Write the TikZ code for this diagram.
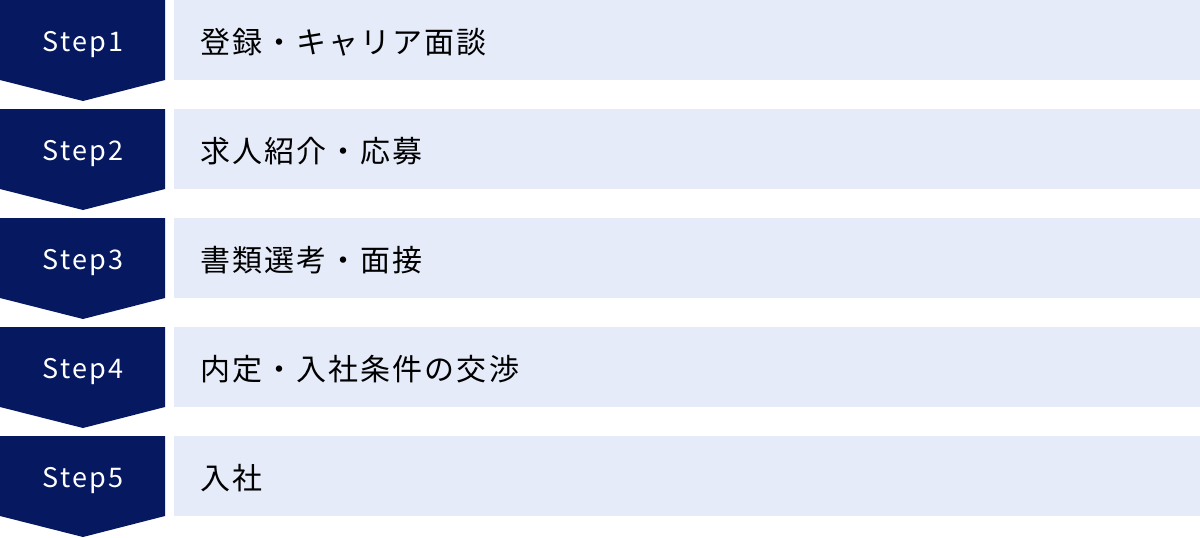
\documentclass[tikz,border=0pt]{standalone}
\usepackage{fontspec}
\setmainfont{Noto Sans CJK JP}
\newfontfamily\labfont[LetterSpace=9]{Noto Sans CJK JP}
\newfontfamily\jpfont[LetterSpace=7]{Noto Sans CJK JP}
\definecolor{navy}{RGB}{5,24,96}
\definecolor{lightbar}{RGB}{229,235,249}
\begin{document}
\begin{tikzpicture}[x=1pt,y=-1pt,
  chevron/.style={fill=navy,draw=none},
  bar/.style={fill=lightbar,draw=none},
  steplabel/.style={text=white,font=\labfont\fontsize{27}{32}\selectfont,inner sep=0pt,anchor=base},
  steptext/.style={text=black,font=\jpfont\fontsize{30}{36}\selectfont,inner sep=0pt,anchor=base west}]
\useasboundingbox (0,0) rectangle (1200,538);
\foreach \i/\lab/\txt in {0/Step1/登録・キャリア面談,1/Step2/求人紹介・応募,2/Step3/書類選考・面接,3/Step4/内定・入社条件の交渉,4/Step5/入社}{
  \pgfmathsetmacro{\t}{109*\i}
  \fill[chevron] (0,\t) -- (165,\t) -- (165,\t+80) -- (83,\t+101) -- (0,\t+80) -- cycle;
  \fill[bar] (174,\t) rectangle (1200,\t+80);
  \node[steplabel] (s\i) at (83,\t+51) {\lab};
  \node[steptext] (t\i) at (200,\t+53) {\txt};
}
\end{tikzpicture}
\end{document}
